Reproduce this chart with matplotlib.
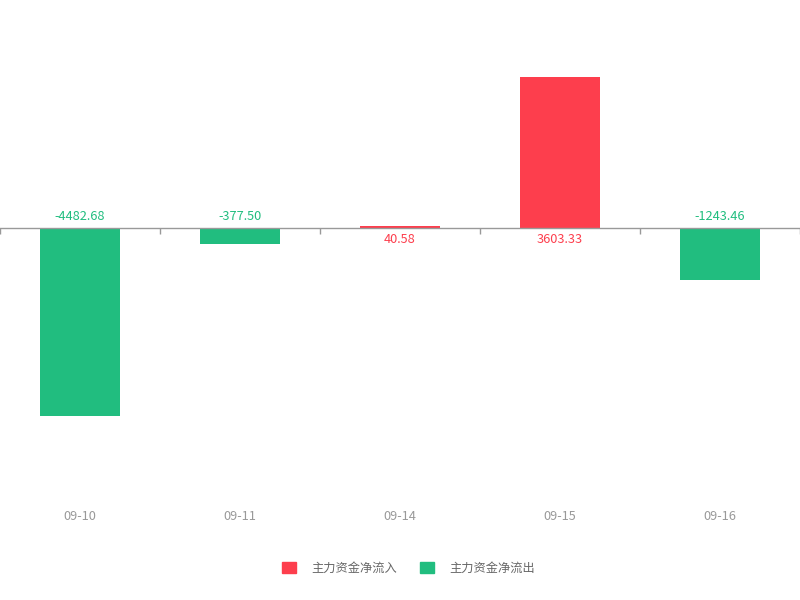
import matplotlib
matplotlib.use('Agg')
from matplotlib import pyplot as plt
from matplotlib.patches import Patch
from matplotlib.transforms import blended_transform_factory

plt.rcParams['font.family'] = ['Noto Sans CJK SC', 'DejaVu Sans']

# Data
dates = ['09-10', '09-11', '09-14', '09-15', '09-16']
net_flow = [-4482.68, -377.50, 40.58, 3603.33, -1243.46]
legend_labels = ['主力资金净流入', '主力资金净流出']

red = '#fd3e4d'
green = '#21bd7f'

fig = plt.figure(figsize=(8, 6), dpi=100)
ax = fig.add_axes([0, 0.2, 1, 0.7])

x = list(range(len(dates)))
colors = [red if v >= 0 else green for v in net_flow]
ax.bar(x, net_flow, width=0.5, color=colors, linewidth=0, zorder=2)

ax.set_xlim(-0.5, len(dates) - 0.5)
ax.set_ylim(-6000, 4000)

# value labels: negative above the axis, positive below
for xi, v, c in zip(x, net_flow, colors):
    if v < 0:
        ax.annotate(f'{v:.2f}', (xi, 0), xytext=(0, 3.5), textcoords='offset points',
                    ha='center', va='bottom', color=c, fontsize=9.2)
    else:
        ax.annotate(f'{v:.2f}', (xi, 0), xytext=(0, -3.5), textcoords='offset points',
                    ha='center', va='top', color=c, fontsize=9.2)

# axis line at zero with tick marks between categories
for s in ['top', 'right', 'left']:
    ax.spines[s].set_visible(False)
ax.spines['bottom'].set_position(('data', 0))
ax.spines['bottom'].set_color('#999999')
ax.spines['bottom'].set_linewidth(1)
ax.spines['bottom'].set_zorder(3)
ax.set_yticks([])
ax.set_xticks([i - 0.5 for i in range(len(dates) + 1)])
ax.set_xticklabels([])
ax.tick_params(axis='x', direction='out', length=4, color='#999999', width=1)

# category labels at the bottom
trans = blended_transform_factory(ax.transData, ax.transAxes)
for xi, d in zip(x, dates):
    ax.text(xi, -0.086, d, transform=trans, ha='center', va='center',
            color='#999999', fontsize=9.2)

handles = [Patch(color=red), Patch(color=green)]
leg = fig.legend(handles, legend_labels, loc='center', bbox_to_anchor=(0.511, 0.053),
                 ncol=2, frameon=False, fontsize=8.8, handlelength=1.1, handleheight=1.1,
                 handletextpad=1.3, columnspacing=1.9)
for t in leg.get_texts():
    t.set_color('#666666')

fig.savefig('out.png', dpi=100)
